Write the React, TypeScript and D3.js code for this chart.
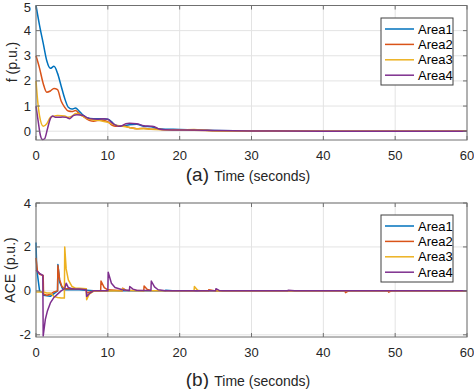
import React, { Component } from 'react'
import * as d3 from 'd3'

// tick values and names
const timeTicks = [0, 10, 20, 30, 40, 50, 60]
const fTicks = [0, 1, 2, 3, 4, 5]
const aceTicks = [-2, 0, 2, 4]
const areaNames = ['Area1', 'Area2', 'Area3', 'Area4']
const areaColors = ['#0072BD', '#D95319', '#EDB120', '#7E2F8E']

// (a) frequency deviation, [time, value]
const fArea1 = [
	[0, 5], [0.5, 4.2], [1, 3.5], [1.5, 2.8], [2, 2.5], [2.5, 2.58], [3, 2.3], [3.5, 1.8], [4, 1.3],
	[4.5, 0.95], [5, 0.88], [5.5, 0.92], [6, 0.8], [6.5, 0.65], [7, 0.55], [8, 0.5], [9, 0.5],
	[10, 0.48], [10.5, 0.38], [11, 0.25], [12, 0.2], [13, 0.26], [14, 0.28], [15, 0.2], [16, 0.18],
	[17, 0.1], [18, 0.08], [20, 0.07], [22, 0.05], [25, 0.03], [30, 0.01], [40, 0], [60, 0],
]
const fArea2 = [
	[0, 3.0], [0.5, 2.5], [1, 1.9], [1.5, 1.55], [2, 1.6], [2.5, 1.7], [3, 1.65], [3.5, 1.2], [4, 0.95],
	[4.5, 0.8], [5, 0.78], [5.5, 0.82], [6, 0.7], [6.5, 0.6], [7, 0.5], [7.5, 0.42], [8, 0.4], [9, 0.45],
	[10, 0.38], [10.5, 0.25], [11, 0.2], [12, 0.22], [13, 0.15], [14, 0.1], [15, 0.12], [16, 0.08],
	[17, 0.08], [18, 0.06], [20, 0.06], [22, 0.04], [25, 0.02], [30, 0.01], [40, 0], [60, 0],
]
const fArea3 = [
	[0, 2.0], [0.2, 1.3], [0.5, 0.6], [1, 0.2], [1.5, 0.3], [2, 0.55], [2.5, 0.6], [3, 0.62], [4, 0.6],
	[4.5, 0.55], [5, 0.6], [5.5, 0.7], [6, 0.68], [6.5, 0.6], [7, 0.52], [8, 0.45], [9, 0.42], [10, 0.35],
	[11, 0.25], [12, 0.2], [13, 0.15], [14, 0.1], [15, 0.1], [16, 0.08], [18, 0.06], [20, 0.05],
	[22, 0.07], [24, 0.03], [28, 0.01], [35, 0], [60, 0],
]
const fArea4 = [
	[0, 1.0], [0.3, 0.4], [0.6, -0.15], [0.9, -0.33], [1.2, -0.3], [1.6, 0.1], [2, 0.5], [2.3, 0.6],
	[2.7, 0.55], [3.2, 0.55], [3.7, 0.56], [4.2, 0.55], [4.7, 0.5], [5.2, 0.62], [5.7, 0.65], [6.5, 0.63],
	[7, 0.55], [7.5, 0.5], [8.5, 0.48], [9.5, 0.5], [10, 0.48], [10.5, 0.35], [11, 0.25], [11.5, 0.2],
	[12, 0.22], [12.5, 0.3], [13, 0.32], [14, 0.3], [15, 0.22], [16, 0.2], [16.5, 0.18], [17, 0.1],
	[18, 0.06], [20, 0.05], [22, 0.05], [25, 0.03], [30, 0.01], [40, 0], [60, 0],
]

// (b) area control error, [time, value]
const aceArea1 = [
	[0, 2.2], [0.1, 1.0], [0.5, 0.0], [1, -0.1], [1.05, -0.2], [2, -0.25], [3, 0], [3.05, 1.2],
	[3.3, 0.4], [3.7, 0.1], [4, 0.05], [6, 0.05], [8, 0], [18, 0], [18.05, 0.03], [19, 0], [60, 0],
]
const aceArea2 = [
	[0, 1.5], [0.2, 0.9], [0.5, 0.75], [1, 0.7], [1.05, -0.15], [1.5, -0.2], [2, -0.15], [2.5, -0.05],
	[3, 0], [3.05, 1.15], [3.3, 0.5], [3.6, 0.2], [4, 0.1], [5, 0.1], [6, 0.1], [7, 0.08], [7.05, -0.1],
	[8, 0], [9, 0], [9.05, 0.45], [9.5, 0.15], [10, 0.05], [12, 0], [12.05, 0.12], [12.5, 0.03], [15, 0],
	[15.05, 0.22], [15.5, 0.06], [16, 0.02], [24, 0], [24.05, 0.05], [25, 0], [43, 0], [43.1, -0.08],
	[43.5, 0], [49, 0], [49.1, -0.06], [49.5, 0], [60, 0],
]
const aceArea3 = [
	[0, -0.05], [1, -0.05], [1.5, -0.1], [2, -0.1], [2.5, -0.25], [3, -0.3], [3.5, -0.32], [3.95, -0.33],
	[4.0, 2.0], [4.2, 1.0], [4.5, 0.5], [5, 0.2], [5.5, 0.12], [6, 0.12], [7, 0.1], [7.05, -0.4],
	[7.4, -0.15], [8, -0.02], [12, 0], [12.05, 0.1], [12.5, 0.02], [22, 0], [22.05, 0.2], [22.5, 0.03],
	[23, 0], [60, 0],
]
const aceArea4 = [
	[0, 0.95], [0.5, 0.8], [0.95, 0.7], [1.0, -2.05], [1.3, -1.3], [1.6, -0.9], [2, -0.55], [2.5, -0.3],
	[3, -0.15], [3.5, 0.0], [4, 0.1], [4.2, 0.35], [4.5, 0.15], [5, 0.1], [6, 0.08], [7, 0.05],
	[7.05, -0.25], [7.5, -0.1], [8, 0], [10, 0], [10.05, 0.85], [10.5, 0.35], [11, 0.15], [12, 0.05],
	[13, 0.02], [13.05, 0.2], [13.5, 0.08], [14, 0.03], [16, 0.02], [16.05, 0.45], [16.5, 0.18],
	[17, 0.05], [18, 0.01], [25, 0], [25.05, 0.1], [25.5, 0.02], [26, 0], [35, 0], [35.1, 0.03],
	[36, 0], [60, 0],
]

const fSeries = [fArea1, fArea2, fArea3, fArea4]
const aceSeries = [aceArea1, aceArea2, aceArea3, aceArea4]

export default class App extends Component {
	svgRef = React.createRef<SVGSVGElement>()

	componentDidMount () {
		const svg = d3.select(this.svgRef.current)
		svg.selectAll('*').remove()

		this.drawPanel(svg, {
			top: 5.5, bottom: 140, yDomain: [-0.35, 5], yTicks: fTicks, series: fSeries,
			ylabel: 'f (p.u.)', labelY: 62, labelX: 17, letter: '(a)', curve: d3.curveMonotoneX,
			legendTop: 18, xTitleY: 181,
		})
		this.drawPanel(svg, {
			top: 203, bottom: 337, yDomain: [-2.1, 4], yTicks: aceTicks, series: aceSeries,
			ylabel: 'ACE (p.u.)', labelY: 270, labelX: 15, letter: '(b)', curve: d3.curveLinear,
			legendTop: 215, xTitleY: 386,
		})
	}

	drawPanel (svg: any, o: any) {
		const left = 36
		const right = 467
		const x = d3.scaleLinear().domain([0, 60]).range([left, right])
		const y = d3.scaleLinear().domain(o.yDomain).range([o.bottom, o.top])
		const g = svg.append('g')

		// grid
		g.selectAll('.gx').data(timeTicks).enter().append('line')
			.attr('x1', (d: number) => x(d)).attr('x2', (d: number) => x(d))
			.attr('y1', o.top).attr('y2', o.bottom)
			.style('stroke', '#e3e3e3').style('stroke-width', 1)
		g.selectAll('.gy').data(o.yTicks).enter().append('line')
			.attr('x1', left).attr('x2', right)
			.attr('y1', (d: number) => y(d)).attr('y2', (d: number) => y(d))
			.style('stroke', '#e3e3e3').style('stroke-width', 1)

		// lines
		const line = d3.line<number[]>()
			.x(d => x(d[0]))
			.y(d => y(d[1]))
			.curve(o.curve)
		o.series.forEach((s: number[][], i: number) => {
			g.append('path')
				.attr('d', line(s))
				.style('fill', 'none')
				.style('stroke', areaColors[i])
				.style('stroke-width', 1.5)
				.style('stroke-linejoin', 'round')
		})

		// box with inward ticks on all sides
		g.append('rect')
			.attr('x', left).attr('y', o.top)
			.attr('width', right - left).attr('height', o.bottom - o.top)
			.style('fill', 'none').style('stroke', '#707070').style('stroke-width', 1)
		timeTicks.forEach(t => {
			g.append('line').attr('x1', x(t)).attr('x2', x(t)).attr('y1', o.bottom).attr('y2', o.bottom - 4)
				.style('stroke', '#707070')
			g.append('line').attr('x1', x(t)).attr('x2', x(t)).attr('y1', o.top).attr('y2', o.top + 4)
				.style('stroke', '#707070')
		})
		o.yTicks.forEach((t: number) => {
			g.append('line').attr('x1', left).attr('x2', left + 4).attr('y1', y(t)).attr('y2', y(t))
				.style('stroke', '#707070')
			g.append('line').attr('x1', right).attr('x2', right - 4).attr('y1', y(t)).attr('y2', y(t))
				.style('stroke', '#707070')
		})

		const font = 'Liberation Sans, Arial, Helvetica, sans-serif'

		// tick labels
		g.selectAll('.tx').data(timeTicks).enter().append('text')
			.attr('x', (d: number) => x(d)).attr('y', o.bottom + 20)
			.attr('text-anchor', 'middle')
			.style('font-family', font).style('font-size', '13px').style('fill', '#262626')
			.text((d: number) => d)
		g.selectAll('.ty').data(o.yTicks).enter().append('text')
			.attr('x', left - 5).attr('y', (d: number) => Math.max(y(d) + 4.5, 12))
			.attr('text-anchor', 'end')
			.style('font-family', font).style('font-size', '13px').style('fill', '#262626')
			.text((d: number) => d)

		// axis titles
		const xt = g.append('text')
			.attr('x', 248).attr('y', o.xTitleY)
			.attr('text-anchor', 'middle')
			.style('font-family', font).style('fill', '#262626')
		xt.append('tspan').style('font-size', '19px').text(o.letter + ' ')
		xt.append('tspan').style('font-size', '14px').text('Time (seconds)')

		g.append('text')
			.attr('transform', `translate(${o.labelX}, ${o.labelY}) rotate(-90)`)
			.attr('text-anchor', 'middle')
			.style('font-family', font).style('font-size', '14px').style('fill', '#262626')
			.text(o.ylabel)

		// legend
		const lg = g.append('g').attr('transform', `translate(381, ${o.legendTop})`)
		lg.append('rect')
			.attr('width', 72).attr('height', 67)
			.style('fill', 'white').style('stroke', '#404040').style('stroke-width', 1)
		areaNames.forEach((name, i) => {
			const yy = 11 + i * 15.4
			lg.append('line').attr('x1', 4).attr('x2', 33).attr('y1', yy).attr('y2', yy)
				.style('stroke', areaColors[i]).style('stroke-width', 1.5)
			lg.append('text').attr('x', 37).attr('y', yy + 4.5)
				.style('font-family', font).style('font-size', '13px').style('fill', '#000')
				.text(name)
		})
	}

	render () {
		return (
			<svg ref={this.svgRef} width={474} height={389}
				style={{ position: 'absolute', left: 0, top: 0, background: 'white' }} />
		)
	}
}
